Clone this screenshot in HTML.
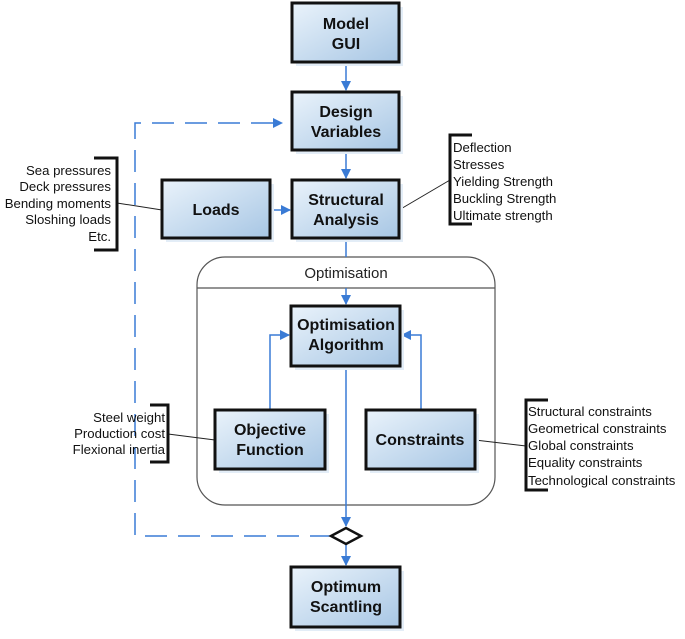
<!DOCTYPE html>
<html><head><meta charset="utf-8"><style>
html,body{margin:0;padding:0;background:#fff;}
svg text{font-family:"Liberation Sans",Arial,sans-serif;}
</style></head><body>
<svg width="685" height="634" viewBox="0 0 685 634" xmlns="http://www.w3.org/2000/svg">
<defs>
<linearGradient id="g" x1="0" y1="0" x2="1" y2="1">
<stop offset="0" stop-color="#eaf3fb"/><stop offset="1" stop-color="#a7c6e4"/>
</linearGradient>
<marker id="a" markerWidth="10" markerHeight="10" refX="9" refY="5" orient="auto" markerUnits="userSpaceOnUse">
<path d="M0,0 L10,5 L0,10 z" fill="#3a7bd5"/>
</marker>
</defs>
<!-- container -->
<rect x="197" y="257" width="298" height="248" rx="28" fill="#fff" stroke="#555" stroke-width="1.2"/>
<line x1="197" y1="288" x2="495" y2="288" stroke="#555" stroke-width="1.2"/>
<text x="346" y="278" font-size="15" text-anchor="middle" fill="#222">Optimisation</text>

<!-- dashed loop -->
<path d="M332,536 H135 V123 H282" fill="none" stroke="#3a7bd5" stroke-width="1.5" stroke-dasharray="22,11" marker-end="url(#a)"/>

<!-- blue connectors -->
<g stroke="#3a7bd5" stroke-width="1.5" fill="none">
<line x1="346" y1="62" x2="346" y2="90" marker-end="url(#a)"/>
<line x1="346" y1="150" x2="346" y2="178" marker-end="url(#a)"/>
<line x1="270" y1="210" x2="290" y2="210" marker-end="url(#a)"/>
<line x1="346" y1="238" x2="346" y2="257"/>
<line x1="346" y1="288" x2="346" y2="304" marker-end="url(#a)"/>
<path d="M270,410 V335 H289" marker-end="url(#a)"/>
<path d="M421,410 V335 H402" marker-end="url(#a)"/>
<line x1="346" y1="366" x2="346" y2="526" marker-end="url(#a)"/>
<line x1="346" y1="545" x2="346" y2="565" marker-end="url(#a)"/>
</g>

<!-- black thin connectors -->
<g stroke="#222" stroke-width="1" fill="none">
<line x1="117" y1="203" x2="162" y2="210"/>
<line x1="399" y1="210" x2="450" y2="180"/>
<line x1="215" y1="440" x2="168" y2="434"/>
<line x1="475" y1="440" x2="526" y2="446"/>
</g>

<!-- diamond -->
<path d="M331,536 L346,528 L361,536 L346,544 z" fill="#fff" stroke="#111" stroke-width="2.5"/>

<!-- boxes -->
<g stroke="#111" stroke-width="3">
<rect x="296" y="7" width="107" height="59" fill="#e3edf7" stroke="none"/>
<rect x="292" y="3" width="107" height="59" fill="url(#g)"/>
<rect x="296" y="96" width="107" height="58" fill="#e3edf7" stroke="none"/>
<rect x="292" y="92" width="107" height="58" fill="url(#g)"/>
<rect x="296" y="184" width="107" height="58" fill="#e3edf7" stroke="none"/>
<rect x="292" y="180" width="107" height="58" fill="url(#g)"/>
<rect x="166" y="184" width="108" height="58" fill="#e3edf7" stroke="none"/>
<rect x="162" y="180" width="108" height="58" fill="url(#g)"/>
<rect x="295" y="310" width="109" height="60" fill="#e3edf7" stroke="none"/>
<rect x="291" y="306" width="109" height="60" fill="url(#g)"/>
<rect x="219" y="414" width="110" height="59" fill="#e3edf7" stroke="none"/>
<rect x="215" y="410" width="110" height="59" fill="url(#g)"/>
<rect x="370" y="414" width="109" height="59" fill="#e3edf7" stroke="none"/>
<rect x="366" y="410" width="109" height="59" fill="url(#g)"/>
<rect x="295" y="571" width="109" height="60" fill="#e3edf7" stroke="none"/>
<rect x="291" y="567" width="109" height="60" fill="url(#g)"/>
</g>
<g font-size="16" font-weight="bold" text-anchor="middle" fill="#111">
<text x="346" y="29">Model</text><text x="346" y="49">GUI</text>
<text x="346" y="117">Design</text><text x="346" y="137">Variables</text>
<text x="346" y="205">Structural</text><text x="346" y="225">Analysis</text>
<text x="216" y="215">Loads</text>
<text x="346" y="330">Optimisation</text><text x="346" y="350">Algorithm</text>
<text x="270" y="435">Objective</text><text x="270" y="455">Function</text>
<text x="420" y="445">Constraints</text>
<text x="346" y="592">Optimum</text><text x="346" y="612">Scantling</text>
</g>

<!-- brackets -->
<g stroke="#111" stroke-width="3" fill="none">
<path d="M94,158 H117 V250 H94"/>
<path d="M472,135 H450 V224 H472"/>
<path d="M150,405 H168 V462 H150"/>
<path d="M548,400 H526 V490 H548"/>
</g>
<g font-size="13.2" fill="#111">
<g text-anchor="end">
<text x="111" y="175">Sea pressures</text>
<text x="111" y="191">Deck pressures</text>
<text x="111" y="208">Bending moments</text>
<text x="111" y="224">Sloshing loads</text>
<text x="111" y="241">Etc.</text>
<text x="165" y="422">Steel weight</text>
<text x="165" y="438">Production cost</text>
<text x="165" y="454">Flexional inertia</text>
</g>
<text x="453" y="152">Deflection</text>
<text x="453" y="169">Stresses</text>
<text x="453" y="186">Yielding Strength</text>
<text x="453" y="203">Buckling Strength</text>
<text x="453" y="220">Ultimate strength</text>
<text x="528" y="416">Structural constraints</text>
<text x="528" y="433">Geometrical constraints</text>
<text x="528" y="450">Global constraints</text>
<text x="528" y="467">Equality constraints</text>
<text x="528" y="485">Technological constraints</text>
</g>
</svg>
</body></html>
